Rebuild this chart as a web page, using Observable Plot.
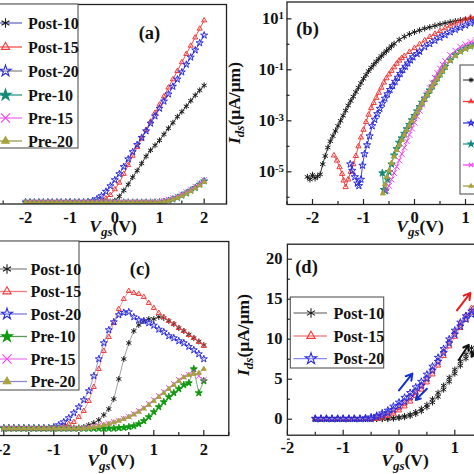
<!DOCTYPE html>
<html>
<head>
<meta charset="utf-8">
<script src="https://cdn.jsdelivr.net/npm/d3@7"></script>
<script src="https://cdn.jsdelivr.net/npm/@observablehq/plot@0.6"></script>
<style>
html,body{margin:0;padding:0;background:#fff;}
#root{position:relative;width:474px;height:474px;overflow:hidden;background:#fff;}
</style>
</head>
<body>
<div id="root"></div>
<script>
// ================= DATA =================
const seriesNames = ["Post-10","Post-15","Post-20","Pre-10","Pre-15","Pre-20"];
const xTickLabels = [-2,-1,0,1,2];
const xMinorTicks = [-2.5,-1.5,-0.5,0.5,1.5,2.5];

// common Vgs grid (V) for panels (a) and (c)
const vGrid = [-2,-1.9,-1.8,-1.7,-1.6,-1.5,-1.4,-1.3,-1.2,-1.1,
  -1,-0.9,-0.8,-0.7,-0.6,-0.5,-0.4,-0.3,-0.2,-0.1,
  0,0.1,0.2,0.3,0.4,0.5,0.6,0.7,0.8,0.9,
  1,1.1,1.2,1.3,1.4,1.5,1.6,1.7,1.8,1.9,
  2];

// (a) linear Ids
const aPost10 = [0.02,0.02,0.02,0.02,0.02,0.02,0.02,0.02,0.02,0.02,
  0.02,0.02,0.02,0.02,0.02,0.02,0.02,0.02,0.05,0.1,
  0.35,1.1,2.2,3.3,4.6,5.8,7.1,8.4,9.5,10.4,
  11.3,12.4,13.5,14.5,15.6,16.5,17.5,18.5,19.5,20.4,
  21.3];
const aPost15 = [0.02,0.02,0.02,0.02,0.02,0.02,0.02,0.02,0.02,0.02,
  0.02,0.02,0.02,0.02,0.02,0.03,0.09,0.31,0.73,1.36,
  2.4,3.6,5.2,6.8,8.5,10.1,11.6,13.2,14.7,16.3,
  17.8,19.3,20.9,22.4,23.9,25.5,27.0,28.5,30.0,31.6,
  33.1];
const aPost20 = [0.02,0.02,0.02,0.02,0.02,0.02,0.02,0.02,0.02,0.02,
  0.02,0.02,0.02,0.04,0.09,0.27,0.64,1.2,2.0,3.0,
  4.1,5.2,6.5,7.9,9.2,10.5,11.8,13.0,14.4,15.7,
  17.1,18.4,19.7,21.1,22.4,23.7,25.1,26.4,27.7,29.0,
  30.4];
const aPre10 = [0.03,0.03,0.03,0.03,0.03,0.03,0.03,0.03,0.03,0.03,
  0.03,0.03,0.03,0.03,0.03,0.03,0.03,0.03,0.03,0.03,
  0.03,0.03,0.03,0.03,0.03,0.03,0.03,0.03,0.03,0.03,
  0.03,0.15,0.35,0.6,0.9,1.3,1.7,2.2,2.7,3.3,
  3.9];
const aPre15 = [0.05,0.05,0.05,0.05,0.05,0.05,0.05,0.05,0.05,0.05,
  0.05,0.05,0.05,0.05,0.05,0.05,0.05,0.05,0.05,0.05,
  0.05,0.05,0.05,0.05,0.05,0.05,0.05,0.05,0.05,0.1,
  0.2,0.35,0.55,0.8,1.1,1.5,1.9,2.4,2.9,3.5,
  4.1];
const aPre20 = [0.02,0.02,0.02,0.02,0.02,0.02,0.02,0.02,0.02,0.02,
  0.02,0.02,0.02,0.02,0.02,0.02,0.02,0.02,0.02,0.02,
  0.02,0.02,0.02,0.02,0.02,0.02,0.02,0.02,0.02,0.02,
  0.02,0.12,0.3,0.55,0.85,1.2,1.6,2.05,2.55,3.1,
  3.7];

// (b) log Ids: [Vgs, log10(Ids)]
const bPost10 = [[-2.1,-5.2],[-2.05,-5.3],[-2.0,-5.12],[-1.95,-5.25],[-1.9,-5.18],[-1.85,-5.1],[-1.8,-4.7],[-1.75,-4.38],[-1.7,-4.05],[-1.65,-3.8],[-1.6,-3.6],[-1.55,-3.4],[-1.5,-3.2],[-1.45,-3.0],[-1.4,-2.8],[-1.35,-2.6],[-1.3,-2.4],[-1.25,-2.22],[-1.2,-2.05],[-1.15,-1.87],[-1.1,-1.7],[-1.05,-1.52],[-1.0,-1.35],[-0.95,-1.2],[-0.9,-1.05],[-0.85,-0.92],[-0.8,-0.8],[-0.75,-0.68],[-0.7,-0.57],[-0.65,-0.46],[-0.6,-0.36],[-0.55,-0.26],[-0.5,-0.17],[-0.45,-0.07],[-0.4,0.02],[-0.3,0.18],[-0.2,0.3],[-0.1,0.4],[0,0.48],[0.1,0.55],[0.2,0.62],[0.3,0.67],[0.4,0.73],[0.5,0.78],[0.6,0.83],[0.7,0.87],[0.8,0.91],[0.9,0.95],[1.0,0.98],[1.1,1.01],[1.2,1.04],[1.3,1.07],[1.4,1.09],[1.5,1.11],[1.6,1.13],[1.7,1.15],[1.8,1.17],[1.9,1.18],[2.0,1.2]];
const bPost15 = [[-1.58,-4.36],[-1.52,-4.56],[-1.47,-4.82],[-1.42,-5.08],[-1.39,-5.34],[-1.35,-5.6],[-1.3,-5.3],[-1.25,-5.0],[-1.2,-4.7],[-1.15,-4.38],[-1.1,-4.0],[-1.05,-3.65],[-1.0,-3.35],[-0.95,-3.05],[-0.9,-2.76],[-0.85,-2.5],[-0.8,-2.3],[-0.75,-2.1],[-0.7,-1.9],[-0.65,-1.7],[-0.6,-1.5],[-0.55,-1.33],[-0.5,-1.18],[-0.45,-1.04],[-0.4,-0.9],[-0.35,-0.76],[-0.3,-0.64],[-0.25,-0.54],[-0.2,-0.46],[-0.1,-0.3],[0,-0.15],[0.1,0.0],[0.2,0.15],[0.3,0.29],[0.4,0.41],[0.5,0.52],[0.6,0.63],[0.7,0.73],[0.8,0.82],[0.9,0.9],[1.0,0.98],[1.1,1.05],[1.2,1.1],[1.3,1.14],[1.4,1.18],[1.5,1.21],[1.6,1.24],[1.7,1.26],[1.8,1.28],[1.9,1.3],[2.0,1.31]];
const bPost20 = [[-1.26,-4.7],[-1.22,-4.95],[-1.17,-5.2],[-1.12,-5.45],[-1.09,-5.55],[-1.05,-5.3],[-1.02,-4.75],[-0.98,-4.3],[-0.93,-3.95],[-0.88,-3.6],[-0.83,-3.2],[-0.78,-2.95],[-0.73,-2.73],[-0.68,-2.52],[-0.63,-2.32],[-0.58,-2.12],[-0.53,-1.95],[-0.48,-1.78],[-0.43,-1.62],[-0.38,-1.46],[-0.33,-1.3],[-0.28,-1.15],[-0.23,-1.0],[-0.18,-0.87],[-0.13,-0.74],[-0.08,-0.62],[-0.03,-0.5],[0.05,-0.37],[0.1,-0.28],[0.2,-0.1],[0.3,0.02],[0.4,0.15],[0.5,0.27],[0.6,0.37],[0.7,0.48],[0.8,0.58],[0.9,0.66],[1.0,0.75],[1.1,0.83],[1.2,0.9],[1.3,0.95],[1.4,1.0],[1.5,1.04],[1.6,1.08],[1.7,1.11],[1.8,1.14],[1.9,1.16],[2.0,1.18]];
const bPre10 = [[-0.63,-5.05],[-0.6,-5.7],[-0.57,-5.75],[-0.53,-5.3],[-0.5,-5.0],[-0.45,-4.7],[-0.4,-4.35],[-0.35,-4.1],[-0.3,-3.85],[-0.25,-3.68],[-0.2,-3.5],[-0.15,-3.32],[-0.1,-3.15],[-0.05,-2.97],[0,-2.8],[0.05,-2.62],[0.1,-2.45],[0.15,-2.28],[0.2,-2.12],[0.25,-1.96],[0.3,-1.8],[0.35,-1.64],[0.4,-1.48],[0.45,-1.32],[0.5,-1.17],[0.55,-1.02],[0.6,-0.87],[0.7,-0.62],[0.8,-0.42],[0.9,-0.27],[1.0,-0.16],[1.1,-0.07],[1.2,0.01],[1.3,0.08],[1.4,0.14],[1.5,0.2],[1.6,0.25],[1.7,0.3],[1.8,0.34],[1.9,0.38],[2.0,0.42]];
const bPre15 = [[-0.55,-5.75],[-0.5,-5.55],[-0.45,-5.3],[-0.4,-5.05],[-0.35,-4.8],[-0.3,-4.55],[-0.25,-4.3],[-0.2,-4.05],[-0.15,-3.8],[-0.1,-3.55],[-0.05,-3.3],[0,-3.07],[0.05,-2.83],[0.1,-2.6],[0.15,-2.37],[0.2,-2.15],[0.25,-1.93],[0.3,-1.72],[0.35,-1.52],[0.4,-1.32],[0.45,-1.13],[0.5,-0.95],[0.55,-0.8],[0.6,-0.65],[0.7,-0.42],[0.8,-0.25],[0.9,-0.1],[1.0,0.0],[1.1,0.09],[1.2,0.16],[1.3,0.23],[1.4,0.29],[1.5,0.34],[1.6,0.39],[1.7,0.44],[1.8,0.48],[1.9,0.52],[2.0,0.55]];
const bPre20 = [[-0.62,-5.85],[-0.58,-5.5],[-0.54,-5.2],[-0.5,-4.95],[-0.45,-4.65],[-0.4,-4.4],[-0.35,-4.15],[-0.3,-3.95],[-0.25,-3.75],[-0.2,-3.55],[-0.15,-3.36],[-0.1,-3.18],[-0.05,-3.0],[0,-2.82],[0.05,-2.65],[0.1,-2.48],[0.15,-2.31],[0.2,-2.15],[0.25,-1.98],[0.3,-1.82],[0.35,-1.66],[0.4,-1.5],[0.45,-1.35],[0.5,-1.2],[0.55,-1.05],[0.6,-0.9],[0.7,-0.65],[0.8,-0.45],[0.9,-0.3],[1.0,-0.19],[1.1,-0.1],[1.2,-0.02],[1.3,0.05],[1.4,0.11],[1.5,0.17],[1.6,0.22],[1.7,0.27],[1.8,0.31],[1.9,0.35],[2.0,0.38]];
const bYTicks = [1e1, 1e-1, 1e-3, 1e-5];
const bYMinor = [1e0, 1e-2, 1e-4, 1e-6];

// (c) curves on vGrid
const cPost10 = [0.03,0.03,0.03,0.03,0.03,0.03,0.03,0.03,0.03,0.03,
  0.03,0.03,0.03,0.03,0.03,0.06,0.1,0.2,0.3,0.45,
  0.7,1.0,1.5,2.5,3.5,4.3,4.9,5.2,5.4,5.5,
  5.5,5.6,5.55,5.4,5.25,5.05,4.9,4.72,4.55,4.38,
  4.2];
const cPost15 = [0.03,0.03,0.03,0.03,0.03,0.03,0.03,0.03,0.03,0.03,
  0.03,0.05,0.15,0.25,0.35,0.6,0.9,1.4,2.1,3.0,
  3.9,4.6,5.3,6.0,6.5,6.9,6.8,6.75,6.6,6.3,
  6.05,5.8,5.6,5.4,5.25,5.05,4.9,4.7,4.55,4.35,
  4.15];
const cPost20 = [0.05,0.05,0.05,0.05,0.05,0.05,0.05,0.05,0.05,0.05,
  0.1,0.2,0.35,0.55,0.8,1.1,1.45,1.9,2.65,3.5,
  4.3,4.95,5.35,5.7,5.82,5.85,5.6,5.45,5.4,5.3,
  5.18,4.98,4.85,4.65,4.55,4.4,4.3,4.12,3.95,3.75,
  3.5];
const cPre10 = [0.03,0.03,0.03,0.03,0.03,0.03,0.03,0.03,0.03,0.03,
  0.03,0.03,0.03,0.03,0.03,0.03,0.03,0.03,0.03,0.03,
  0.03,0.03,0.03,0.05,0.07,0.1,0.15,0.25,0.4,0.6,
  0.85,1.1,1.35,1.6,1.8,2.0,2.2,2.3,3.0,1.8,
  2.4];
const cPre15 = [0.03,0.03,0.03,0.03,0.03,0.03,0.03,0.03,0.03,0.03,
  0.03,0.03,0.03,0.03,0.03,0.03,0.05,0.08,0.12,0.17,
  0.22,0.28,0.35,0.43,0.52,0.62,0.75,0.9,1.05,1.25,
  1.45,1.65,1.85,2.05,2.25,2.45,2.6,2.72,2.85,2.65,
  2.45];
const cPre20 = [0.03,0.03,0.03,0.03,0.03,0.03,0.03,0.03,0.03,0.03,
  0.03,0.03,0.03,0.03,0.03,0.03,0.03,0.06,0.1,0.15,
  0.2,0.26,0.33,0.41,0.5,0.6,0.72,0.86,1.02,1.2,
  1.4,1.6,1.8,2.0,2.2,2.4,2.58,2.7,2.75,2.8,
  3.0];

// (d) hysteresis sweeps
const vGridD = [-1.5,-1.4,-1.3,-1.2,-1.1,-1,-0.9,-0.8,-0.7,-0.6,
  -0.5,-0.4,-0.3,-0.2,-0.1,0,0.1,0.2,0.3,0.4,
  0.5,0.6,0.7,0.8,0.9,1,1.1,1.2,1.3,1.4,
  1.5,1.6];
const dPost10Fwd = [0.05,0.05,0.05,0.05,0.05,0.05,0.05,0.05,0.05,0.05,
  0.05,0.05,0.05,0.1,0.15,0.25,0.4,0.6,0.9,1.3,
  1.8,2.5,3.3,4.2,5.2,6.2,7.2,8.1,8.9,9.5,
  10.0,10.4];
const dPost10Rev = [0.03,0.03,0.03,0.03,0.03,0.03,0.03,0.03,0.03,0.03,
  0.03,0.03,0.03,0.03,0.08,0.15,0.25,0.4,0.65,1.0,
  1.5,2.1,2.8,3.7,4.7,5.7,6.7,7.6,8.4,9.0,
  9.5,9.9];
const dPost15Fwd = [0.05,0.05,0.05,0.05,0.05,0.05,0.05,0.05,0.05,0.05,
  0.1,0.2,0.35,0.6,0.95,1.4,1.95,2.6,3.3,4.1,
  5.0,6.1,7.3,8.5,9.7,10.9,12.0,13.0,13.9,14.6,
  15.1,15.5];
const dPost15Rev = [0.03,0.03,0.03,0.03,0.03,0.03,0.03,0.03,0.03,0.03,
  0.03,0.03,0.2,0.4,0.7,1.1,1.6,2.2,2.9,3.7,
  4.6,5.6,6.7,7.9,9.1,10.3,11.4,12.4,13.3,14.0,
  14.6,15.0];
const dPost20Fwd = [0.08,0.08,0.08,0.08,0.08,0.08,0.08,0.08,0.08,0.15,
  0.25,0.45,0.75,1.1,1.6,2.1,2.7,3.3,4.0,4.7,
  5.6,6.6,7.7,8.8,10.0,11.1,12.1,12.9,13.5,14.0,
  14.4,14.7];
const dPost20Rev = [0.05,0.05,0.05,0.05,0.05,0.05,0.05,0.05,0.05,0.05,
  0.05,0.3,0.5,0.8,1.2,1.7,2.2,2.8,3.5,4.2,
  5.1,6.1,7.2,8.3,9.5,10.6,11.6,12.5,13.1,13.6,
  14.0,14.3];
// sweep-direction arrows: [x1, y1, x2, y2, series]
const dArrows = [[1.04,13.6,1.28,15.8,"Post-15"],[1.07,7.4,1.25,9.3,"Post-10"],[1.45,9.6,1.3,7.8,"Post-10"],
  [0.0,3.6,0.24,5.7,"Post-20"],[0.5,3.8,0.3,2.4,"Post-20"]];
const dYTicks = [0,5,10,15,20];
const dYMinor = [-2.5,2.5,7.5,12.5,17.5];
const dXMinor = [-1.5,-0.5,0.5,1.5];

// ================= STYLE =================
const FONT = '"Liberation Serif","Times New Roman",Times,serif';
const symbolOf = {"Post-10":"asterisk","Post-15":"triangle2","Post-20":"star","Pre-10":"star","Pre-15":"times","Pre-20":"triangle"};
const symScale = {asterisk: 1.25, times: 1.2, star: 1.0, triangle2: 1.1, triangle: 0.8};
const isOpen = {"Post-10":true,"Post-15":true,"Post-20":true,"Pre-10":false,"Pre-15":true,"Pre-20":false};
const markColor = {"Post-10":"#1c1c1c","Post-15":"#f03a3a","Post-20":"#2b2be0","Pre-10":"#138a78","Pre-15":"#f044f0","Pre-20":"#a8a23c"};
const root = document.getElementById("root");

function toRows(xs, ys) {
  if (xs.length !== ys.length) console.error("length mismatch", xs.length, ys.length);
  return xs.map((v, i) => [v, ys[i]]);
}

function seriesMarks(rows, name, opt = {}) {
  const color = opt.color || markColor[name];
  const line = opt.line || color;
  const sym = symbolOf[name];
  const r = (opt.r || 2.3) * symScale[sym];
  const open = isOpen[name];
  return [
    Plot.line(rows, {x: d => d[0], y: d => d[1], stroke: line, strokeWidth: opt.lw || 0.9, clip: true}),
    Plot.dot(rows, {x: d => d[0], y: d => d[1], symbol: sym, r,
      stroke: color, fill: open ? "none" : color, strokeWidth: 1, clip: true})
  ];
}

function xAxis(major, minor, pad) {
  return [
    Plot.axisX({ticks: major, anchor: "bottom", tickSize: 5, dy: -5, label: null, tickFormat: () => "", fill: "none", stroke: "#222", strokeWidth: 1.2}),
    Plot.axisX({ticks: minor, anchor: "bottom", tickSize: 3, dy: -3, label: null, tickFormat: () => "", fill: "none", stroke: "#222", strokeWidth: 1.2}),
    Plot.axisX({ticks: major, anchor: "bottom", tickSize: 0, tickPadding: pad, label: null, tickFormat: d => String(d), fill: "#111"})
  ];
}
function yAxis(major, minor, pad, fmt) {
  return [
    Plot.axisY({ticks: major, anchor: "left", tickSize: 5, dx: 5, label: null, tickFormat: () => "", fill: "none", stroke: "#222", strokeWidth: 1.2}),
    Plot.axisY({ticks: minor, anchor: "left", tickSize: 3, dx: 3, label: null, tickFormat: () => "", fill: "none", stroke: "#222", strokeWidth: 1.2}),
    Plot.axisY({ticks: major, anchor: "left", tickSize: 0, tickPadding: pad, label: null, tickFormat: fmt || (d => String(d)), fill: "#111"})
  ];
}

function panel(g, marks, extra = {}) {
  const svgLeft = Math.floor(g.fx0) - 70, svgTop = Math.floor(g.fy0) - 12;
  const width = Math.ceil(g.fx1) + 14 - svgLeft, height = Math.ceil(g.fy1) + 40 - svgTop;
  const svg = Plot.plot({
    width, height,
    marginLeft: g.fx0 - svgLeft, marginTop: g.fy0 - svgTop,
    marginRight: width - (g.fx1 - svgLeft), marginBottom: height - (g.fy1 - svgTop),
    x: {domain: g.xDomain, axis: null},
    y: {type: g.yType || "linear", domain: g.yDomain, axis: null},
    style: {background: "none", fontFamily: FONT, fontSize: "16.5px", fontWeight: "bold", color: "#111", maxWidth: "none"},
    ...extra,
    marks: [...marks, Plot.frame({stroke: "#222", strokeWidth: 1.3})]
  });
  svg.style.position = "absolute";
  svg.style.left = svgLeft + "px";
  svg.style.top = svgTop + "px";
  root.appendChild(svg);
  return svg;
}

// ================= PANEL (a) =================
const aSeries = [aPost10, aPost15, aPost20, aPre10, aPre15, aPre20];
panel({fx0: -1.8, fx1: 226, fy0: 4, fy1: 203.5, xDomain: [-2.6, 2.5], yDomain: [-0.27, 36]}, [
  ...xAxis(xTickLabels, xMinorTicks, 7.5),
  ...aSeries.flatMap((s, i) => seriesMarks(toRows(vGrid, s), seriesNames[i], {r: 2.2}))
]);

// ================= PANEL (b) =================
const bSeries = [bPost10, bPost15, bPost20, bPre10, bPre15, bPre20];
const svgB = panel({fx0: 286.5, fx1: 541.5, fy0: 1.5, fy1: 204, xDomain: [-2.5, 2.5], yType: "log", yDomain: [10 ** -6.282, 10 ** 1.659]}, [
  ...xAxis(xTickLabels, xMinorTicks, 7),
  ...yAxis(bYTicks, bYMinor, 3, d => "10^" + Math.round(Math.log10(d))),
  ...bSeries.flatMap((s, i) => seriesMarks(s.map(([v, e]) => [v, 10 ** e]), seriesNames[i], {r: 2.3}))
]);
svgB.querySelectorAll('[aria-label="y-axis tick label"] text').forEach(t => {
  const parts = t.textContent.split("^");
  if (parts.length !== 2) return;
  t.textContent = parts[0];
  const ts = document.createElementNS("http://www.w3.org/2000/svg", "tspan");
  ts.setAttribute("dy", "-0.45em");
  ts.setAttribute("font-size", "0.66em");
  ts.textContent = parts[1];
  t.appendChild(ts);
});

// ================= PANEL (c) =================
const cSeries = [cPost10, cPost15, cPost20, cPre10, cPre15, cPre20];
const cColor = {"Pre-10": "#119a11"};
const cLine = {"Post-10": "#8a8a8a", "Post-15": "#f07a7a", "Post-20": "#7c7cd8", "Pre-10": "#5a985a", "Pre-15": "#f07cf0", "Pre-20": "#8a8ad0"};
panel({fx0: -21.7, fx1: 228.3, fy0: 241, fy1: 435, xDomain: [-2.5, 2.5], yDomain: [-0.325, 9.375]}, [
  ...xAxis(xTickLabels, xMinorTicks, 8),
  ...cSeries.flatMap((s, i) => seriesMarks(toRows(vGrid, s), seriesNames[i],
    {r: 2.2, color: cColor[seriesNames[i]], line: cLine[seriesNames[i]], lw: 0.8}))
]);

// ================= PANEL (d) =================
const dSeries = [[dPost10Fwd, dPost10Rev], [dPost15Fwd, dPost15Rev], [dPost20Fwd, dPost20Rev]];
const dLine = {"Post-10": "#8c8c8c", "Post-15": "#f08a8a", "Post-20": "#8a8af0"};
const arrowColor = {"Post-10": "#111", "Post-15": "#e81e1e", "Post-20": "#1432d2"};
panel({fx0: 286.9, fx1: 538, fy0: 243.7, fy1: 434.7, xDomain: [-2, 2.5], yDomain: [-2, 21.875]}, [
  ...xAxis(xTickLabels, dXMinor, 6.2),
  ...yAxis(dYTicks, dYMinor, 5),
  ...dSeries.flatMap((pair, i) => pair.flatMap(s => seriesMarks(toRows(vGridD, s), seriesNames[i],
    {r: 2.3, line: dLine[seriesNames[i]], lw: 0.8}))),
  Plot.arrow(dArrows, {x1: d => d[0], y1: d => d[1], x2: d => d[2], y2: d => d[3],
    stroke: d => arrowColor[d[4]], strokeWidth: 2, headLength: 7, clip: true})
], {color: {type: "identity"}});

// ================= OVERLAY: legends, titles, panel labels =================
const ov = d3.select(root).append("svg")
  .attr("width", 474).attr("height", 474)
  .style("position", "absolute").style("left", "0px").style("top", "0px")
  .style("font-family", FONT).style("font-weight", "bold").attr("fill", "#111");

const d3sym = {asterisk: d3.symbolAsterisk, triangle2: d3.symbolTriangle2, triangle: d3.symbolTriangle, star: d3.symbolStar, times: d3.symbolTimes};
function symPath(name, r) { return d3.symbol(d3sym[symbolOf[name]], Math.PI * r * r)(); }

function legend(box, rowsY, names, lineColors, colors, lx1, lx2, mx, tx, fs, mr) {
  const g = ov.append("g");
  g.append("rect").attr("x", box[0]).attr("y", box[1]).attr("width", box[2] - box[0]).attr("height", box[3] - box[1])
    .attr("fill", "#fff").attr("stroke", "#555").attr("stroke-width", 1.1);
  names.forEach((n, i) => {
    const y = rowsY[i];
    const c = colors[n] || markColor[n];
    g.append("line").attr("x1", lx1).attr("x2", lx2).attr("y1", y).attr("y2", y).attr("stroke", lineColors[n]).attr("stroke-width", 1.3);
    const r = mr * symScale[symbolOf[n]];
    g.append("path").attr("d", symPath(n, r)).attr("transform", `translate(${mx},${y})`)
      .attr("stroke", c).attr("stroke-width", 1.1).attr("fill", isOpen[n] ? "none" : c);
    if (tx !== null) g.append("text").attr("x", tx).attr("y", y).attr("dy", "0.35em").attr("font-size", fs).text(n);
  });
}

const legLineA = {"Post-10": "#6a6ac8", "Post-15": "#f05050", "Post-20": "#8c8c8c", "Pre-10": "#2a9a88", "Pre-15": "#f070f0", "Pre-20": "#9a9a50"};
legend([-5, 4, 78, 148], [23, 47, 71, 95, 118, 141], seriesNames, legLineA, {}, -5, 22, 5.5, 28, 16, 3.5);
legend([-5, 241, 79, 390], [269, 291.5, 314, 336.5, 359, 381.5], seriesNames, cLine, cColor, -5, 27, 7, 30.5, 16, 3.5);
const legLineB = {"Post-10": "#555", "Post-15": "#f03a3a", "Post-20": "#3a3ae0", "Pre-10": "#2a9a88", "Pre-15": "#f044f0", "Pre-20": "#9aa040"};
legend([460, 65, 520, 194], [80, 101.5, 123, 144, 165, 186], seriesNames, legLineB, {}, 463, 490, 471, null, 16, 1.8);
legend([290.3, 297, 383.7, 368], [313, 336, 358.7], seriesNames.slice(0, 3), dLine, {}, 293.5, 327, 311, 333.5, 16, 3.6);

function axisTitleX(x, y) {
  const t = ov.append("text").attr("x", x).attr("y", y).attr("text-anchor", "middle").attr("font-size", 17.5);
  t.append("tspan").attr("font-style", "italic").text("V");
  t.append("tspan").attr("font-style", "italic").attr("font-size", 13).attr("dy", 4).text("gs");
  t.append("tspan").attr("dy", -4).text("(V)");
}
function axisTitleY(x, y) {
  const t = ov.append("text").attr("transform", `translate(${x},${y}) rotate(-90)`).attr("text-anchor", "middle").attr("font-size", 17.5);
  t.append("tspan").attr("font-style", "italic").text("I");
  t.append("tspan").attr("font-style", "italic").attr("font-size", 13).attr("dy", 4).text("ds");
  t.append("tspan").attr("dy", -4).text("(μA/μm)");
}
axisTitleX(113, 232);
axisTitleX(420, 232);
axisTitleX(111, 466);
axisTitleX(405, 466);
axisTitleY(239.5, 103);
axisTitleY(248.5, 335);

[["(a)", 149.5, 33.5], ["(b)", 307.5, 30], ["(c)", 140, 269.5], ["(d)", 306.5, 267.5]].forEach(([s, x, y]) => {
  ov.append("text").attr("x", x).attr("y", y + 5).attr("text-anchor", "middle").attr("font-size", 18.5).text(s);
});
</script>
</body>
</html>
